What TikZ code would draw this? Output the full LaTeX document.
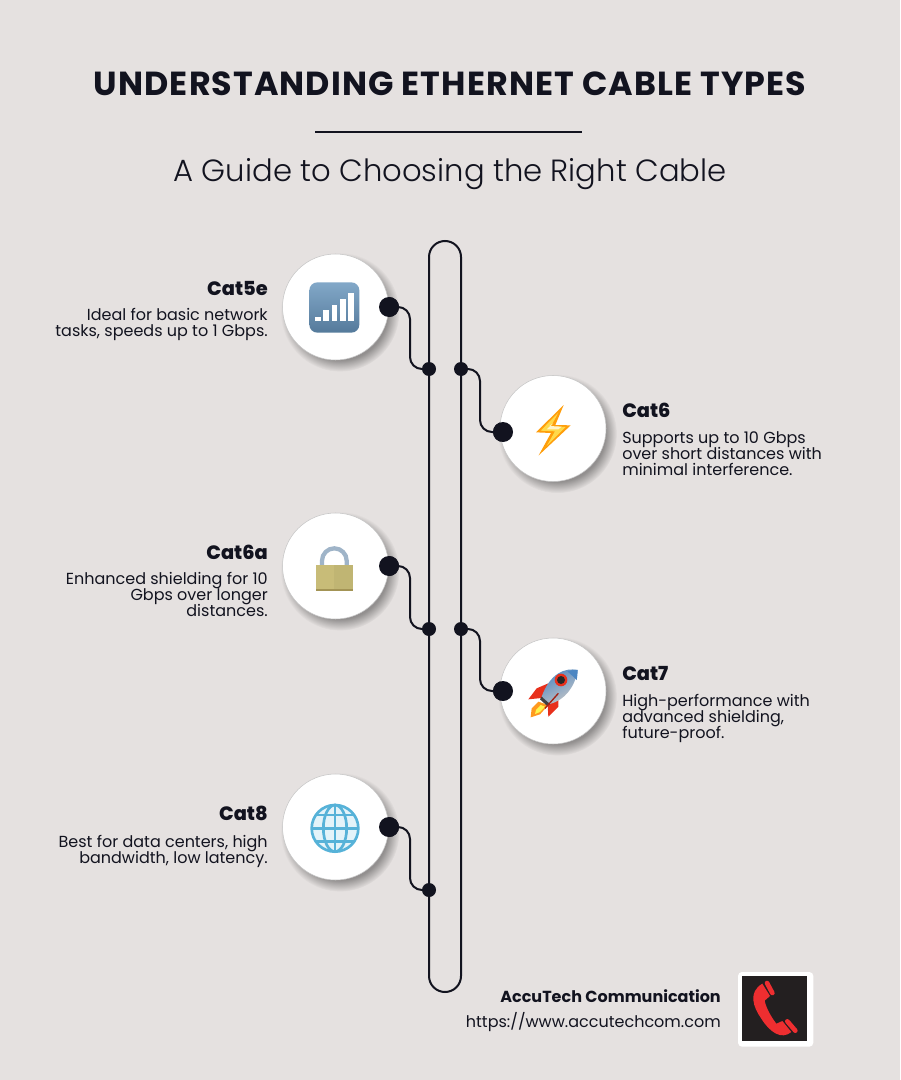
\documentclass[tikz,border=0pt]{standalone}
\usepackage{fontspec}
\usetikzlibrary{shadows,fadings,calc}
\setmainfont{Poppins}
\newfontfamily\lightface{Poppins Light}
\newfontfamily\heavyface{Poppins ExtraBold}
\definecolor{pagebg}{HTML}{E5E1E0}
\definecolor{ink}{HTML}{12131F}
\definecolor{tiletop}{HTML}{82A8C8}
\definecolor{tilebot}{HTML}{557A9B}
\definecolor{boltout}{HTML}{FF9E0B}
\definecolor{boltmid}{HTML}{FFD94A}
\definecolor{brass}{HTML}{C8BC78}
\definecolor{brassdark}{HTML}{A39455}
\definecolor{steel}{HTML}{9FB4C8}
\definecolor{hullblue}{HTML}{4C86C2}
\definecolor{hullgrey}{HTML}{C6C6C6}
\definecolor{finred}{HTML}{E8301C}
\definecolor{flame}{HTML}{FF9A1F}
\definecolor{globeline}{HTML}{56B2D8}
\definecolor{globefill}{HTML}{E3F3F9}
\definecolor{logodark}{HTML}{231F20}
\definecolor{logored}{HTML}{EE2E30}
\tikzset{
	rail/.style={draw=ink,line width=1.5pt,rounded corners=12pt,minimum width=24pt,minimum height=563.25pt,inner sep=0pt,outer sep=0pt},
	wire/.style={draw=ink,line width=1.5pt,rounded corners=9pt},
	disc/.style={circle,fill=white,draw=gray!45,line width=0.4pt,minimum size=79.5pt,inner sep=0pt,
		general shadow={fill=black,opacity=0.36,shadow xshift=3pt,shadow yshift=-3.5pt,shadow scale=1.12,path fading=circle with fuzzy edge 20 percent}},
	dotbig/.style={circle,fill=ink,minimum size=15pt,inner sep=0pt},
	dotsmall/.style={circle,fill=ink,minimum size=10.5pt,inner sep=0pt},
	headtext/.style={font=\heavyface\fontsize{14.5}{16}\selectfont,text=ink,inner sep=0pt},
	bodyright/.style={font={\fontsize{12}{12}\selectfont\lineskiplimit=-6pt},text=ink,inner sep=0pt,align=right,anchor=north east},
	bodyleft/.style={font={\fontsize{12}{12}\selectfont\lineskiplimit=-6pt},text=ink,inner sep=0pt,align=left,anchor=north west},
	globewire/.style={draw=globeline,line width=2pt}
}
\begin{document}
\begin{tikzpicture}[x=0.75pt,y=-0.75pt]
	\fill [pagebg] (0,0) rectangle (900,1080);
	\useasboundingbox (0,0) rectangle (900,1080);

	\node [font=\addfontfeatures{LetterSpace=3.2}\bfseries\fontsize{25}{28}\selectfont,text=ink,inner sep=0pt] (title) at (450,84) {UNDERSTANDING ETHERNET CABLE TYPES};
	\coordinate (ruleL) at (315,132.5);
	\coordinate (ruleR) at (582,132.5);
	\draw [ink,line width=1.5pt] (ruleL) -- (ruleR);
	\node [font=\lightface\fontsize{23}{28}\selectfont,text=ink,inner sep=0pt] (subtitle) at (450,174) {A Guide to Choosing the Right Cable};

	\node [rail] (spine) at (445,616.5) {};

	\node [dotbig] (dotA) at (389,307) {};
	\node [dotbig] (dotB) at (503,432) {};
	\node [dotbig] (dotC) at (389,566) {};
	\node [dotbig] (dotD) at (503,691) {};
	\node [dotbig] (dotE) at (389,827) {};
	\node [dotsmall] (jointA) at (429,369) {};
	\node [dotsmall] (jointB) at (461,369) {};
	\node [dotsmall] (jointC) at (429,629) {};
	\node [dotsmall] (jointD) at (461,629) {};
	\node [dotsmall] (jointE) at (429,890) {};
	\coordinate (bendA) at (410,338);
	\coordinate (bendB) at (480,400);
	\coordinate (bendC) at (410,597);
	\coordinate (bendD) at (480,660);
	\coordinate (bendE) at (410,858);
	\draw [wire] (dotA.center) -| (bendA) |- (jointA.center);
	\draw [wire] (jointB.center) -| (bendB) |- (dotB.center);
	\draw [wire] (dotC.center) -| (bendC) |- (jointC.center);
	\draw [wire] (jointD.center) -| (bendD) |- (dotD.center);
	\draw [wire] (dotE.center) -| (bendE) |- (jointE.center);

	\node [disc] (discA) at (335.5,307) {};
	\node [disc] (discB) at (553,428.5) {};
	\node [disc] (discC) at (335.5,566) {};
	\node [disc] (discD) at (553,691) {};
	\node [disc] (discE) at (335.5,827) {};
	\node [dotbig] at (dotA) {};
	\node [dotbig] at (dotB) {};
	\node [dotbig] at (dotC) {};
	\node [dotbig] at (dotD) {};
	\node [dotbig] at (dotE) {};

	\begin{scope}[shift={(270,240)},x=0.25pt,y=-0.25pt]
		\shade [top color=tiletop,bottom color=tilebot,rounded corners=6pt] (118,127) rectangle (268,278);
		\fill [white] (135,230) rectangle (152,243);
		\fill [white] (160,211) rectangle (177,243);
		\fill [white] (185,194) rectangle (202,243);
		\fill [white] (210,178) rectangle (227,243);
		\fill [white] (235,160) rectangle (252,243);
	\end{scope}

	\begin{scope}[shift={(450,360)},x=0.25pt,y=-0.25pt]
		\fill [boltout] (341,135) -- (258,217) -- (303,219) -- (266,286) -- (362,196) -- (316,195) -- cycle;
		\fill [boltmid] (325,158) -- (272,212) -- (315,214) -- (290,258) -- (347,201) -- (303,199) -- cycle;
		\fill [white!70!boltmid] (310,190) -- (290,208) -- (325,208) -- (335,200) -- (298,198) -- cycle;
	\end{scope}

	\begin{scope}[shift={(270,505)},x=0.25pt,y=-0.25pt]
		\draw [steel,line width=3.2pt] (156,182) -- (156,167) arc (180:360:37) -- (230,182);
		\fill [brass] (138,180) rectangle (248,258);
		\fill [brass!96!black] (193,180) rectangle (248,258);
		\fill [brassdark] (138,252) rectangle (248,258);
	\end{scope}

	\begin{scope}[shift={(490,630)},x=0.25pt,y=-0.25pt]
		\fill [finred] (175,160) -- (140,175) -- (115,208) -- (165,203) -- cycle;
		\fill [finred] (205,190) -- (205,230) -- (175,260) -- (173,225) -- cycle;
		\fill [flame] (145,215) -- (125,235) -- (122,262) -- (150,253) -- (175,225) -- cycle;
		\fill [yellow!70!white] (152,225) -- (138,240) -- (135,252) -- (150,246) -- (165,230) -- cycle;
		\shade [left color=hullblue,right color=hullgrey,shading angle=30] (263,120) .. controls (225,112) and (180,130) .. (155,200) -- (180,222) .. controls (225,210) and (255,170) .. (263,120) -- cycle;
		\fill [hullblue] (263,120) .. controls (250,119) and (240,121) .. (232,124) .. controls (245,135) and (255,145) .. (260,150) .. controls (262,140) and (263,130) .. (263,120) -- cycle;
		\fill [finred] (213,150) circle (19);
		\fill [black!85] (213,150) circle (12);
		\fill [black!75] (155,200) -- (180,222) -- (172,228) -- (150,208) -- cycle;
		\draw [finred!70!black,line width=1pt] (205,190) -- (165,235);
	\end{scope}

	\begin{scope}[shift={(270,765)},x=0.25pt,y=-0.25pt]
		\fill [globefill] (195,190) circle (70);
		\draw [globewire] (195,190) circle (70);
		\draw [globewire] (195,190) ellipse (35 and 70);
		\draw [globewire] (195,120) -- (195,260);
		\draw [globewire] (125,190) -- (265,190);
		\draw [globewire] (138,150) -- (252,150);
		\draw [globewire] (138,230) -- (252,230);
	\end{scope}

	\node [headtext,anchor=base east] (nameA) at (268,296) {Cat5e};
	\node [bodyright] (noteA) at (268,308.5) {Ideal for basic network\\tasks, speeds up to 1 Gbps.};
	\node [headtext,anchor=base west] (nameB) at (622,417) {Cat6};
	\node [bodyleft] (noteB) at (622,431) {Supports up to 10 Gbps\\over short distances with\\minimal interference.};
	\node [headtext,anchor=base east] (nameC) at (268,559) {Cat6a};
	\node [bodyright] (noteC) at (268,572.5) {Enhanced shielding for 10\\Gbps over longer\\distances.};
	\node [headtext,anchor=base west] (nameD) at (622,680) {Cat7};
	\node [bodyleft] (noteD) at (622,694.5) {High-performance with\\advanced shielding,\\future-proof.};
	\node [headtext,anchor=base east] (nameE) at (268,820) {Cat8};
	\node [bodyright] (noteE) at (268,835) {Best for data centers, high\\bandwidth, low latency.};

	\node [font=\bfseries\fontsize{12}{14}\selectfont,text=ink,inner sep=0pt,anchor=base east] (brand) at (721,1002) {AccuTech Communication};
	\node [font=\fontsize{12}{14}\selectfont,text=ink,inner sep=0pt,anchor=base east] (site) at (721,1027) {https://www.accutechcom.com};

	\begin{scope}[shift={(738,972)},x=0.25pt,y=-0.25pt]
		\fill [white,rounded corners=3pt] (0,0) rectangle (226,224);
		\fill [logodark] (13,12) rectangle (208,207);
		\draw [logored,line width=3.5pt,line cap=round] (87,33) -- (103,63);
		\draw [logored,line width=3.5pt,line cap=round] (148,148) -- (172,176);
		\fill [logored] (73,35) -- (96,72) -- (80,86) .. controls (85,110) and (100,135) .. (115,155) -- (133,147) -- (160,180) .. controls (130,205) and (95,180) .. (70,140) .. controls (45,105) and (30,60) .. (73,35) -- cycle;
	\end{scope}
\end{tikzpicture}
\end{document}
